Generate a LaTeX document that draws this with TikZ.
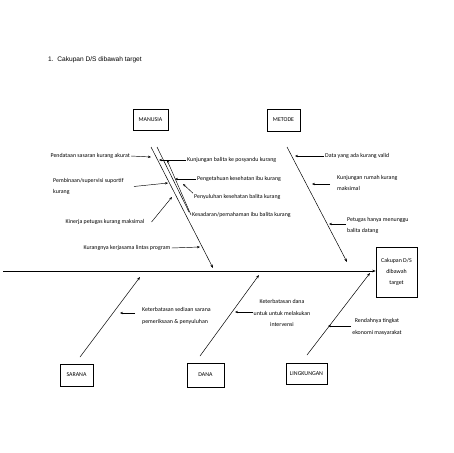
\documentclass[tikz,border=0pt]{standalone}
\usepackage{fontspec}
\setmainfont{Carlito}
\newfontfamily\titlefont{Liberation Sans}
\usetikzlibrary{arrows.meta,positioning}

\begin{document}
\begin{tikzpicture}[
  x=1pt, y=-1pt,
  font=\fontsize{5.9}{11.2}\selectfont,
  catbox/.style={draw, line width=0.5pt, inner sep=0pt, align=center},
  cause/.style={inner sep=1pt, align=left},
  bone/.style={line width=0.5pt, -{Stealth[length=3.5pt,width=2.6pt]}},
  flow/.style={line width=0.45pt, -{Stealth[length=3pt,width=2.4pt]}},
]
\useasboundingbox (0,0) rectangle (453,453);

% title
\node[anchor=west, inner sep=0pt, font=\titlefont\fontsize{6.6}{8}\selectfont] (title) at (48,60) {1.\ \ Cakupan D/S dibawah target};

% category boxes
\node[catbox, minimum width=35pt, minimum height=21pt] (manusia) at (150.5,119.5) {MANUSIA};
\node[catbox, minimum width=33pt, minimum height=22pt] (metode) at (283.5,120) {METODE};
\node[catbox, minimum width=33pt, minimum height=22pt] (sarana) at (76.5,375) {SARANA};
\node[catbox, minimum width=37pt, minimum height=24pt] (dana) at (205.5,375) {DANA};
\node[catbox, minimum width=41pt, minimum height=21pt] (lingkungan) at (306.5,373.5) {LINGKUNGAN};
\node[catbox, minimum width=41pt, minimum height=50pt] (effect) at (396.5,272) {Cakupan D/S\\dibawah\\target};

% spine
\coordinate (spineStart) at (3,271);
\draw[bone] (spineStart) -- (effect.west |- spineStart);

% bones
\coordinate (manusiaTop) at (151,147);
\coordinate (manusiaEnd) at (213,268);
\coordinate (subTop) at (157,147);
\coordinate (subEnd) at (189,212);
\coordinate (metodeTop) at (287,147);
\coordinate (metodeEnd) at (347,262);
\coordinate (saranaBot) at (80,357);
\coordinate (saranaEnd) at (140,277);
\coordinate (danaBot) at (200,356);
\coordinate (danaEnd) at (259,275);
\coordinate (lingkBot) at (307,355);
\coordinate (lingkEnd) at (370,273);

\draw[bone] (manusiaTop) -- (manusiaEnd);
\draw[line width=0.5pt] (subTop) -- (subEnd);
\draw[bone] (metodeTop) -- (metodeEnd);
\draw[bone] (saranaBot) -- (saranaEnd);
\draw[bone] (danaBot) -- (danaEnd);
\draw[bone] (lingkBot) -- (lingkEnd);

% causes: manusia
\node[cause, anchor=east] (pendataan) at (131,156) {Pendataan sasaran kurang akurat};
\node[cause, anchor=west] (pembinaan) at (52,186.5) {Pembinaan/supervisi suportif\\kurang};
\node[cause] (kinerja) at (105,222) {Kinerja petugas kurang maksimal};
\node[cause] (kurangnya) at (127,248) {Kurangnya kerjasama lintas program};
\node[cause, anchor=west] (kunjungan) at (186,160) {Kunjungan balita ke posyandu kurang};
\node[cause, anchor=west] (pengetahuan) at (196,179) {Pengetahuan kesehatan ibu kurang};
\node[cause, anchor=west] (penyuluhan) at (193,197) {Penyuluhan kesehatan balita kurang};
\node[cause, anchor=west] (kesadaran) at (191,215) {Kesadaran/pemahaman ibu balita kurang};

\coordinate (pendataanTip) at (151,157);
\coordinate (pembinaanTip) at (168,183);
\coordinate (kinerjaTip) at (172,197);
\coordinate (kurangnyaTip) at (200,247);
\coordinate (kunjunganTip) at (159,160);
\coordinate (pengetahuanTip) at (175,179);
\coordinate (penyuluhanTip) at (183,184);
\coordinate (kesadaranTip) at (167,160);

\draw[flow] (pendataan.east) -- (pendataanTip);
\draw[flow] ([xshift=9pt]pembinaan.east) -- (pembinaanTip);
\draw[flow] ([xshift=6pt]kinerja.east) -- (kinerjaTip);
\draw[flow] (kurangnya.east) -- (kurangnyaTip);
\draw[flow] (kunjungan.west) -- (kunjunganTip);
\draw[flow] (pengetahuan.west) -- (pengetahuanTip);
\draw[flow] (penyuluhan.north west) -- (penyuluhanTip);
\draw[flow] (kesadaran.west) -- (kesadaranTip);

% causes: metode
\node[cause, anchor=west] (dataValid) at (324,156) {Data yang ada kurang valid};
\node[cause, anchor=west] (kunjRumah) at (336,183) {Kunjungan rumah kurang\\maksimal};
\node[cause, anchor=west] (petugas) at (346,225.5) {Petugas hanya menunggu\\balita datang};

\coordinate (dataValidTip) at (295,156);
\coordinate (kunjRumahTip) at (312,184);
\coordinate (petugasTip) at (329,224);

\draw[flow] (dataValid.west) -- (dataValidTip);
\draw[flow] ([xshift=-6pt,yshift=-1pt]kunjRumah.west) -- (kunjRumahTip);
\draw[flow] ([yshift=1.5pt]petugas.west) -- (petugasTip);

% causes: sarana, dana, lingkungan
\node[cause, anchor=west] (saranaCause) at (141,316) {Keterbatasan sediaan sarana\\pemeriksaan \& penyuluhan};
\node[cause, align=center] (danaCause) at (282,313) {Keterbatasan dana\\untuk untuk melakukan\\intervensi};
\node[cause, align=center] (lingkCause) at (377,327) {Rendahnya tingkat\\ekonomi masyarakat};

\coordinate (saranaTip) at (120,313);
\coordinate (danaTip) at (235,312);
\coordinate (lingkTip) at (328,326);

\draw[flow] ([xshift=-6pt,yshift=3pt]saranaCause.west) -- (saranaTip);
\draw[flow] ([yshift=1pt]danaCause.west) -- (danaTip);
\draw[flow] ([yshift=1pt]lingkCause.west) -- (lingkTip);
\end{tikzpicture}
\end{document}
